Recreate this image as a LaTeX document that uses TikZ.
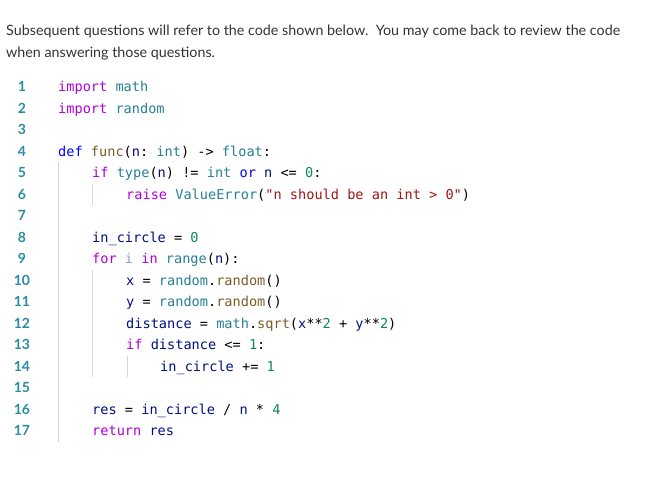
\documentclass[tikz,border=0pt]{standalone}
\usepackage{fontspec}
\setmainfont{Lato}
\setmonofont{DejaVu Sans Mono}
\definecolor{kw}{HTML}{AF00DB}
\definecolor{kb}{HTML}{0000FF}
\definecolor{fn}{HTML}{795E26}
\definecolor{ty}{HTML}{267F99}
\definecolor{vr}{HTML}{001080}
\definecolor{nm}{HTML}{098658}
\definecolor{st}{HTML}{A31515}
\definecolor{li}{HTML}{2A8CA0}
\definecolor{txt}{HTML}{333333}
\definecolor{gd}{HTML}{D8D8D8}
\newcommand{\K}[1]{\textcolor{kw}{#1}}
\newcommand{\B}[1]{\textcolor{kb}{#1}}
\newcommand{\F}[1]{\textcolor{fn}{#1}}
\newcommand{\T}[1]{\textcolor{ty}{#1}}
\newcommand{\V}[1]{\textcolor{vr}{#1}}
\newcommand{\N}[1]{\textcolor{nm}{#1}}
\newcommand{\Sx}[1]{\textcolor{st}{#1}}
\begin{document}
\begin{tikzpicture}[x=1pt,y=1pt,
  code/.style={anchor=base west,inner sep=0,font=\ttfamily\fontsize{13.6}{14}\selectfont},
  num/.style={anchor=base,inner sep=0,text=li,font=\fontsize{14}{14}\selectfont\bfseries},
  hdr/.style={anchor=base west,inner sep=0,text=txt,font=\fontsize{14.3}{14}\selectfont}]
\useasboundingbox (0,0) rectangle (646,477);
\node[hdr] (h1) at (6,477-36) {Subsequent questions will refer to the code shown below.\ \ You may come back to review the code};
\node[hdr] (h2) at (6,477-58) {when answering those questions.};
\foreach \i in {1,...,17}{
  \node[num] (n\i) at (22,{477-92-21.5*(\i-1)}) {\i};
}
\def\Y#1{{477-92-21.5*(#1-1)}}
% indent guides
\draw[gd,line width=0.8pt] (58,{477-87-21.5*3.5}) -- (58,{477-87-21.5*16.5});
\draw[gd,line width=0.8pt] (92,{477-87-21.5*4.5}) -- (92,{477-87-21.5*5.5});
\draw[gd,line width=0.8pt] (92,{477-87-21.5*8.5}) -- (92,{477-87-21.5*13.5});
\draw[gd,line width=0.8pt] (127,{477-87-21.5*12.5}) -- (127,{477-87-21.5*13.5});
\node[code] (c1) at (58,\Y{1}) {\K{import} \T{math}};
\node[code] (c2) at (58,\Y{2}) {\K{import} \T{random}};
\node[code] (c4) at (58,\Y{4}) {\B{def} \F{func}(\V{n}: \T{int}) -> \T{float}:};
\node[code] (c5) at (92,\Y{5}) {\K{if} \T{type}(\V{n}) != \T{int} \B{or} \V{n} <= \N{0}:};
\node[code] (c6) at (126,\Y{6}) {\K{raise} \T{ValueError}(\Sx{"n should be an int > 0"})};
\node[code] (c8) at (92,\Y{8}) {\V{in\_circle} = \N{0}};
\node[code] (c9) at (92,\Y{9}) {\K{for} \textcolor[HTML]{9A9AD0}{i} \K{in} \T{range}(\V{n}):};
\node[code] (c10) at (126,\Y{10}) {\V{x} = \T{random}.\F{random}()};
\node[code] (c11) at (126,\Y{11}) {\V{y} = \T{random}.\F{random}()};
\node[code] (c12) at (126,\Y{12}) {\V{distance} = \T{math}.\F{sqrt}(\V{x}**\N{2} + \V{y}**\N{2})};
\node[code] (c13) at (126,\Y{13}) {\K{if} \V{distance} <= \N{1}:};
\node[code] (c14) at (160,\Y{14}) {\V{in\_circle} += \N{1}};
\node[code] (c16) at (92,\Y{16}) {\V{res} = \V{in\_circle} / \V{n} * \N{4}};
\node[code] (c17) at (92,\Y{17}) {\K{return} \V{res}};
\end{tikzpicture}
\end{document}
